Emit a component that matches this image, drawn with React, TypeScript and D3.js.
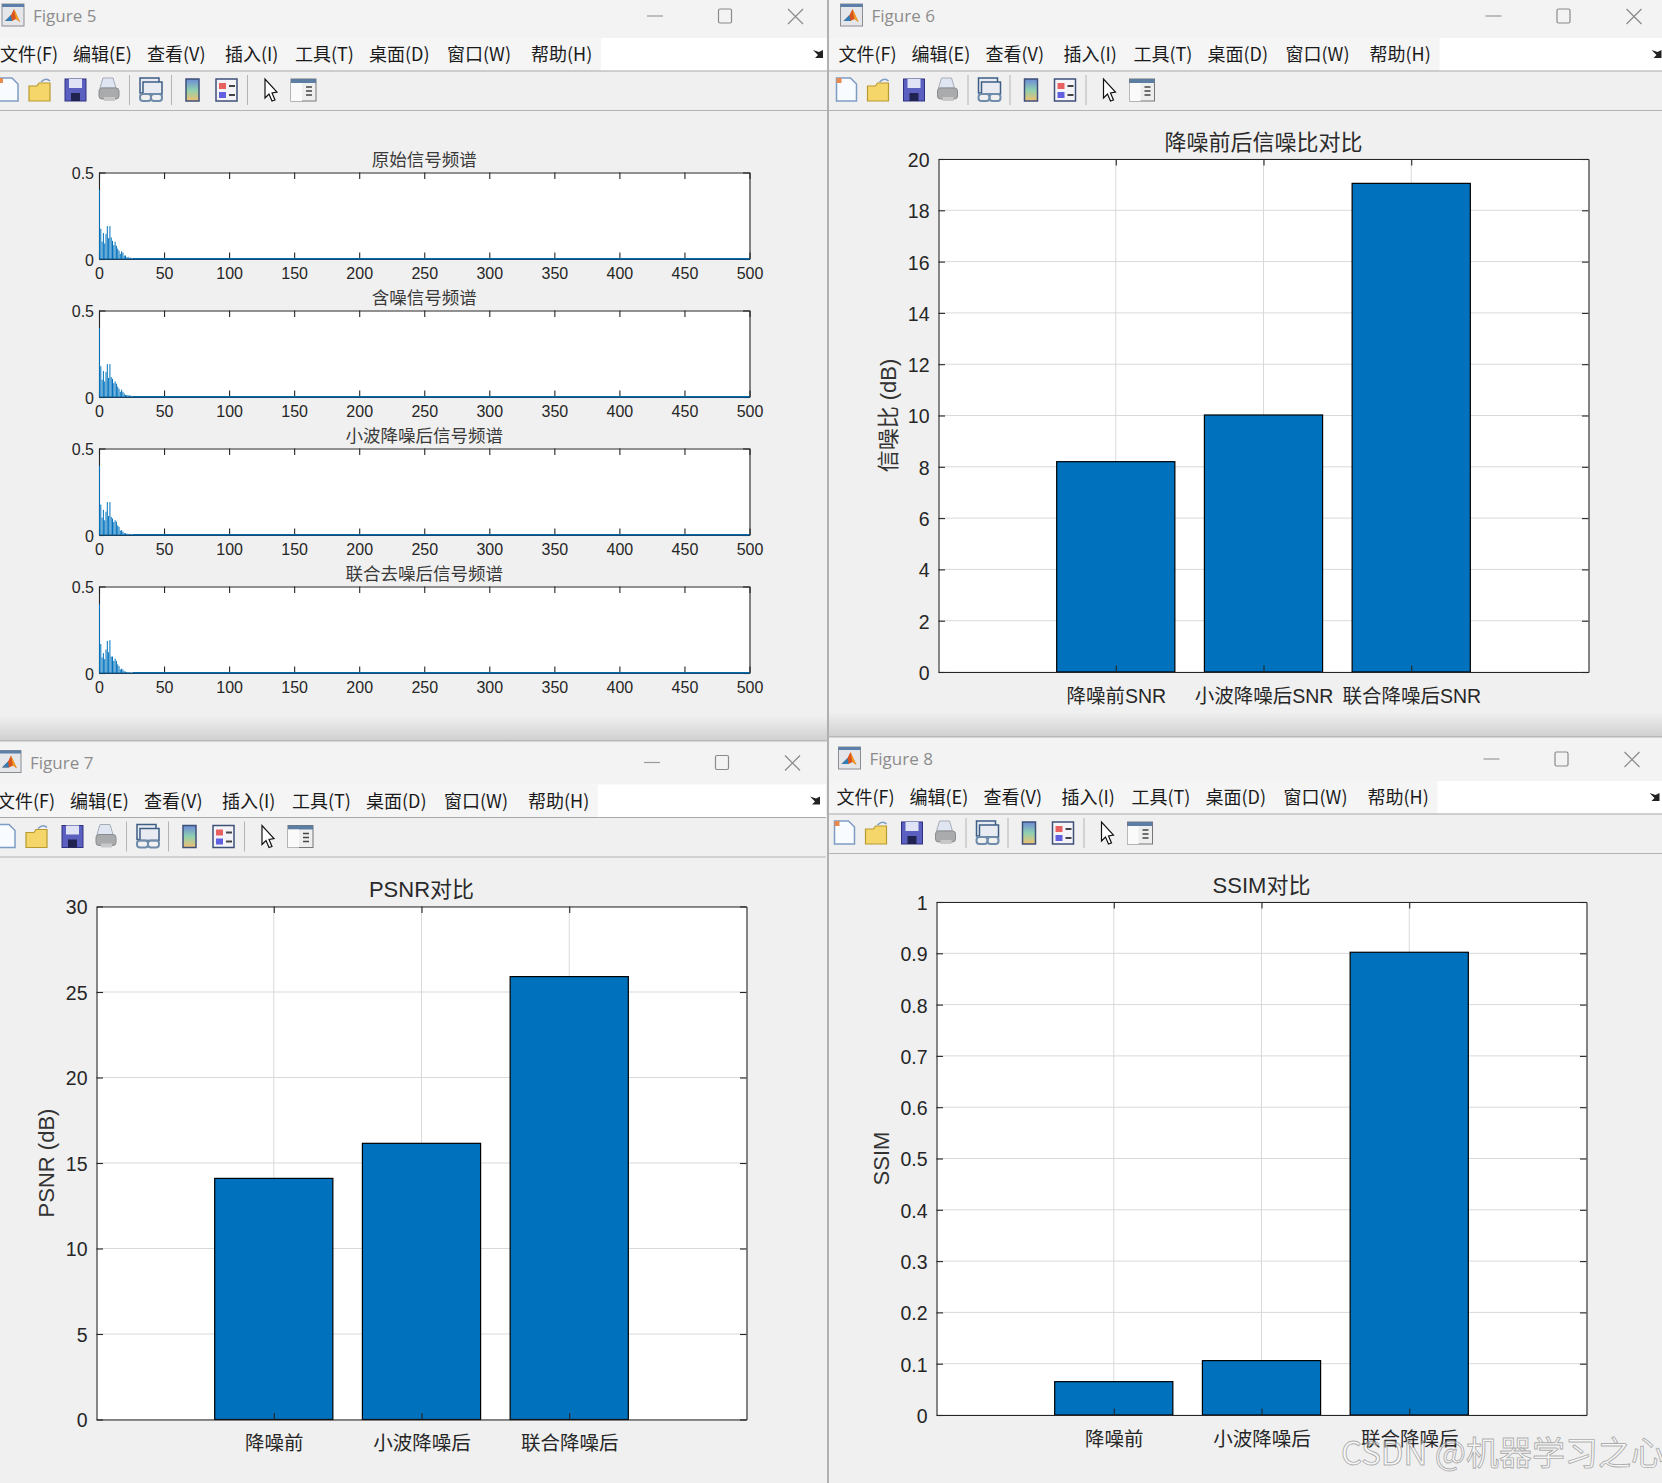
import { useEffect, useRef } from "react";
import * as d3 from "d3";

// spectrum low end: 1 Hz steps
const specFreq = [0, 1, 2, 3, 4, 5, 6, 7, 8, 9, 10, 11, 12, 13, 14, 15, 16, 17, 18, 19, 20, 21, 22, 23, 24, 25, 26];
const origAmp = [0.4, 0.175, 0.1, 0.15, 0.09, 0.145, 0.19, 0.12, 0.19, 0.125, 0.105, 0.08, 0.1, 0.077, 0.06, 0.048, 0.03, 0.044, 0.038, 0.02, 0.02, 0.01, 0.012, 0.006, 0.008, 0.004, 0.003];
const noisyAmp = [0.4, 0.178, 0.1, 0.15, 0.09, 0.145, 0.19, 0.11, 0.19, 0.115, 0.105, 0.08, 0.09, 0.077, 0.06, 0.048, 0.03, 0.042, 0.03, 0.02, 0.012, 0.012, 0.01, 0.008, 0.008, 0.006, 0.005];
const waveletAmp = [0.4, 0.176, 0.1, 0.145, 0.085, 0.135, 0.19, 0.11, 0.19, 0.105, 0.095, 0.075, 0.085, 0.077, 0.055, 0.048, 0.025, 0.028, 0.02, 0.012, 0.01, 0.008, 0.006, 0.005, 0.006, 0.004, 0.004];
const jointAmp = [0.4, 0.168, 0.09, 0.115, 0.08, 0.135, 0.185, 0.12, 0.19, 0.095, 0.095, 0.07, 0.083, 0.07, 0.05, 0.04, 0.02, 0.025, 0.02, 0.01, 0.008, 0.006, 0.004, 0.003, 0.002, 0.002, 0.001];
const tailFreq = [26, 500];
const tailAmp = [0.002, 0.002];
const specTitles = ["原始信号频谱", "含噪信号频谱", "小波降噪后信号频谱", "联合去噪后信号频谱"];
const specSeries = [origAmp, noisyAmp, waveletAmp, jointAmp];
const specXTicks = [0, 50, 100, 150, 200, 250, 300, 350, 400, 450, 500];
const specYTicks = [0, 0.5];

const snrLabels = ["降噪前SNR", "小波降噪后SNR", "联合降噪后SNR"];
const snrValues = [8.2, 10.02, 19.05];
const snrTicks = [0, 2, 4, 6, 8, 10, 12, 14, 16, 18, 20];

const psnrLabels = ["降噪前", "小波降噪后", "联合降噪后"];
const psnrValues = [14.1, 16.15, 25.9];
const psnrTicks = [0, 5, 10, 15, 20, 25, 30];

const ssimLabels = ["降噪前", "小波降噪后", "联合降噪后"];
const ssimValues = [0.065, 0.106, 0.902];
const ssimTicks = [0, 0.1, 0.2, 0.3, 0.4, 0.5, 0.6, 0.7, 0.8, 0.9, 1];

const menuItems = ["文件(F)", "编辑(E)", "查看(V)", "插入(I)", "工具(T)", "桌面(D)", "窗口(W)", "帮助(H)"];
const menuStarts = [0, 73, 147, 225, 295, 369, 447, 531];

const BLUE = "#0072bd";
const INK = "#262626";
const FONT = '"Liberation Sans","Noto Sans CJK SC",sans-serif';
const CJK = '"Noto Sans CJK SC","Liberation Sans",sans-serif';

type Sel = d3.Selection<SVGGElement, unknown, null, undefined>;

function frame(
  g: Sel,
  x: d3.ScaleLinear<number, number>,
  y: d3.ScaleLinear<number, number>,
  xTicks: number[],
  yTicks: number[],
  tickLen: number,
  xPad: number,
  yPad: number,
  fontSize: number,
  xFmt: (v: number) => string
) {
  const [x0, x1] = x.range();
  const [y1, y0] = y.range();
  const axes: [string, d3.Axis<d3.NumberValue>][] = [
    [`translate(0,${y1})`, d3.axisBottom(x).tickValues(xTicks).tickFormat((v) => xFmt(+v)).tickSizeInner(-tickLen).tickPadding(xPad)],
    [`translate(0,${y0})`, d3.axisTop(x).tickValues(xTicks).tickFormat(() => "").tickSizeInner(-tickLen)],
    [`translate(${x0},0)`, d3.axisLeft(y).tickValues(yTicks).tickFormat((v) => String(+v)).tickSizeInner(-tickLen).tickPadding(yPad)],
    [`translate(${x1},0)`, d3.axisRight(y).tickValues(yTicks).tickFormat(() => "").tickSizeInner(-tickLen)],
  ];
  axes.forEach(([tr, ax], i) => {
    const a = g.append("g").attr("transform", tr).call(ax.tickSizeOuter(0));
    a.selectAll("line,path").attr("stroke", INK).attr("stroke-width", 1.1);
    a.selectAll("text").attr("fill", INK).style("font-family", FONT).style("font-size", `${fontSize}px`);
    if (i === 2) a.selectAll("text").attr("dy", "0.38em");
  });
}

function Spectrum({ top, title, amp }: { top: number; title: string; amp: number[] }) {
  const ref = useRef<SVGGElement>(null);
  const left = 99;
  const right = 749.5;
  const h = 86.5;
  useEffect(() => {
    const g = d3.select(ref.current!) as unknown as Sel;
    g.selectAll("*").remove();
    const x = d3.scaleLinear().domain([0, 500]).range([left, right]);
    const y = d3.scaleLinear().domain([0, 0.5]).range([top + h, top]);
    g.append("rect").attr("x", left).attr("y", top).attr("width", right - left).attr("height", h).attr("fill", "#fff");
    frame(g, x, y, specXTicks, specYTicks, 6.5, 9, 5, 16, (v) => String(v));
    // series goes over the frame, the 0 Hz stem sits on the left axis line
    g.append("g")
      .selectAll("line")
      .data(specFreq)
      .join("line")
      .attr("x1", (d) => x(d) + 0.5)
      .attr("x2", (d) => x(d) + 0.5)
      .attr("y1", y(0))
      .attr("y2", (_, i) => y(amp[i]))
      .attr("stroke", BLUE)
      .attr("stroke-width", 1);
    g.append("path")
      .datum(tailFreq.map((f, i) => [f, tailAmp[i]] as [number, number]))
      .attr("d", d3.line<[number, number]>().x((d) => x(d[0])).y((d) => y(d[1])))
      .attr("stroke", BLUE)
      .attr("stroke-width", 1.2)
      .attr("fill", "none");
    g.append("line").attr("x1", x(0)).attr("x2", x(500)).attr("y1", y(0)).attr("y2", y(0)).attr("stroke", "#0b5f99").attr("stroke-width", 1);
    g.append("text")
      .attr("x", (left + right) / 2)
      .attr("y", top - 7)
      .attr("text-anchor", "middle")
      .attr("fill", "#3a3a3a")
      .style("font-family", CJK)
      .style("font-size", "17.5px")
      .text(title);
  }, [top, title, amp]);
  return <g ref={ref} />;
}

interface BarProps {
  left: number;
  top: number;
  title: string;
  yLabel: string;
  yLabelX: number;
  labels: string[];
  values: number[];
  ticks: number[];
}

function BarPanel({ left, top, title, yLabel, yLabelX, labels, values, ticks }: BarProps) {
  const ref = useRef<SVGGElement>(null);
  const w = 650;
  const h = 513;
  useEffect(() => {
    const g = d3.select(ref.current!) as unknown as Sel;
    g.selectAll("*").remove();
    const x = d3.scaleLinear().domain([-0.2, 4.2]).range([left, left + w]);
    const y = d3.scaleLinear().domain([0, ticks[ticks.length - 1]]).range([top + h, top]);
    const xTicks = labels.map((_, i) => i + 1);
    g.append("rect").attr("x", left).attr("y", top).attr("width", w).attr("height", h).attr("fill", "#fff");
    g.append("g")
      .selectAll("line")
      .data(xTicks)
      .join("line")
      .attr("x1", (d) => x(d))
      .attr("x2", (d) => x(d))
      .attr("y1", top)
      .attr("y2", top + h)
      .attr("stroke", "#d9d9d9");
    g.append("g")
      .selectAll("line")
      .data(ticks)
      .join("line")
      .attr("x1", left)
      .attr("x2", left + w)
      .attr("y1", (d) => y(d))
      .attr("y2", (d) => y(d))
      .attr("stroke", "#d9d9d9");
    g.append("g")
      .selectAll("rect")
      .data(values)
      .join("rect")
      .attr("x", (_, i) => x(i + 1 - 0.4))
      .attr("width", x(0.8) - x(0))
      .attr("y", (d) => y(d))
      .attr("height", (d) => y(0) - y(d))
      .attr("fill", BLUE)
      .attr("stroke", "#000")
      .attr("stroke-width", 1.2);
    frame(g, x, y, xTicks, ticks, 6.5, 17, 9, 19.5, (v) => labels[v - 1]);
    g.append("text")
      .attr("x", left + w / 2)
      .attr("y", top - 9.5)
      .attr("text-anchor", "middle")
      .attr("fill", "#2a2a2a")
      .style("font-family", FONT)
      .style("font-size", "22px")
      .text(title);
    g.append("text")
      .attr("transform", `translate(${yLabelX},${top + h / 2}) rotate(-90)`)
      .attr("text-anchor", "middle")
      .attr("dy", "0.35em")
      .attr("fill", "#333")
      .style("font-family", FONT)
      .style("font-size", "22px")
      .text(yLabel);
  }, [left, top, title, yLabel, yLabelX, labels, values, ticks]);
  return <g ref={ref} />;
}

function Logo() {
  return (
    <g>
      <rect x={2} y={4} width={22} height={22} fill="#e4e6ea" stroke="#8a8d92" />
      <rect x={2} y={4} width={22} height={3} fill="#5b7fa8" />
      <path d="M5 21 L11 15 L14 9 L20 22 L16 19 L12 21 Z" fill="#d9541e" />
      <path d="M5 21 L11 15 L12 21 Z" fill="#2f7fb8" />
      <path d="M14 9 L20 22 L16 19 Z" fill="#f0a020" />
    </g>
  );
}

function Toolbar() {
  return (
    <g>
      <path d="M-2 78 H12 L18 84 V101 H-2 Z" fill="#f8fbff" stroke="#7d9cc4" strokeWidth={1.5} />
      <rect x={-2} y={78} width={5} height={5} fill="#e88a50" />
      <path d="M29 86 H37 L39 83 H50 V101 H29 Z" fill="#f5d66a" stroke="#b89a30" strokeWidth={1.2} />
      <path d="M41 82 Q46 77 50 81" fill="none" stroke="#7d9cc4" strokeWidth={1.5} />
      <rect x={65} y={79} width={21} height={22} fill="#5a5fc0" stroke="#2e3280" />
      <rect x={69} y={79} width={13} height={9} fill="#dfe3f5" />
      <rect x={71} y={93} width={9} height={8} fill="#20234f" />
      <path d="M103 78 H113 L116 88 H100 Z" fill="#dfe6f2" stroke="#a6acb6" />
      <rect x={99} y={88} width={20} height={11} rx={3} fill="#a9abad" stroke="#8a8c8e" />
      <rect x={104} y={97} width={11} height={4} fill="#c8c8c8" />
      <rect x={129} y={75} width={1} height={30} fill="#b4b4b4" />
      <rect x={140} y={78} width={19} height={15} fill="#e8ecf2" stroke="#3e5d85" strokeWidth={1.5} />
      <rect x={143} y={82} width={19} height={12} fill="#e8ecf2" stroke="#3e5d85" strokeWidth={1.5} />
      <rect x={140} y={94} width={11} height={7} rx={3} fill="none" stroke="#6f8cab" strokeWidth={2} />
      <rect x={151} y={94} width={11} height={7} rx={3} fill="none" stroke="#6f8cab" strokeWidth={2} />
      <rect x={171} y={75} width={1} height={30} fill="#b4b4b4" />
      <defs>
        <linearGradient id="cbar" x1="0" y1="0" x2="0" y2="1">
          <stop offset="0" stopColor="#6c8ad8" />
          <stop offset="0.5" stopColor="#8fd0b0" />
          <stop offset="1" stopColor="#f0c070" />
        </linearGradient>
      </defs>
      <rect x={186} y={79} width={13} height={22} fill="url(#cbar)" stroke="#3e4f78" strokeWidth={1.5} />
      <rect x={216} y={79} width={21} height={22} fill="#f4f4f8" stroke="#3e4f78" strokeWidth={1.5} />
      <rect x={219} y={83} width={7} height={6} fill="#e86060" />
      <rect x={219} y={92} width={7} height={6} fill="#6060e0" />
      <rect x={229} y={85} width={6} height={2} fill="#444" />
      <rect x={229} y={94} width={6} height={2} fill="#444" />
      <rect x={247} y={75} width={1} height={30} fill="#b4b4b4" />
      <path d="M265 79 V98 L269 94 L272 101 L275 100 L272 93 L277 92 Z" fill="#fff" stroke="#111" strokeWidth={1.2} />
      <rect x={291} y={79} width={25} height={22} fill="#eee" stroke="#777" />
      <rect x={291} y={79} width={25} height={4} fill="#5d7ea3" />
      <rect x={291} y={83} width={11} height={18} fill="#fafafa" />
      <path d="M306 87 H312 M306 91 H312 M306 95 H312" stroke="#444" strokeWidth={1.5} />
    </g>
  );
}

function Chrome({ dx, dy, top, bottom, xL, xR, name }: { dx: number; dy: number; top: number; bottom: number; xL: number; xR: number; name: string }) {
  const id = `clip-${name.replace(" ", "")}`;
  return (
    <g>
      <clipPath id={id}>
        <rect x={xL} y={top} width={xR - xL} height={bottom - top} />
      </clipPath>
      <g clipPath={`url(#${id})`}>
        <rect x={xL} y={top} width={xR - xL} height={bottom - top} fill="#f0f0f0" />
        <rect x={xL} y={top} width={xR - xL} height={dy + 38 - top} fill="#f3f3f3" />
        <rect x={xL} y={dy + 38} width={xR - xL} height={33} fill="#fff" />
        <rect x={xL} y={dy + 38} width={dx + 601 - xL} height={33} fill="#f5f5f5" />
        <rect x={xL} y={dy + 70.5} width={xR - xL} height={1} fill="#a8a8a8" />
        <rect x={xL} y={dy + 110} width={xR - xL} height={1} fill="#b4b4b4" />
        <g transform={`translate(${dx},${dy})`}>
          <Logo />
          <text x={33} y={22} fill="#8c8c8c" fontFamily='"Open Sans",sans-serif' fontSize={17}>{name}</text>
          <path d="M647 16 H663" stroke="#9a9a9a" strokeWidth={1.2} />
          <rect x={718.5} y={9} width={13} height={14} rx={1.5} fill="none" stroke="#8a8a8a" strokeWidth={1.2} />
          <path d="M788 9 L803 24 M803 9 L788 24" stroke="#8a8a8a" strokeWidth={1.2} />
          {menuItems.map((m, i) => (
            <text key={m} x={menuStarts[i]} y={61} fill="#1a1a1a" fontFamily={CJK} fontSize={18}>{m}</text>
          ))}
          <path d="M813 50 L819 52 L823 50 L823 58 L815 58 L818 55 Z" fill="#222" />
          <Toolbar />
        </g>
      </g>
    </g>
  );
}

export default function App() {
  return (
    <svg width={1662} height={1483} viewBox="0 0 1662 1483" style={{ position: "absolute", left: 0, top: 0, background: "#f0f0f0" }}>
      <defs>
        <linearGradient id="edge" x1="0" y1="0" x2="0" y2="1">
          <stop offset="0" stopColor="#f0f0f0" />
          <stop offset="1" stopColor="#cfcfcf" />
        </linearGradient>
      </defs>
      <Chrome dx={0} dy={0} top={0} bottom={741} xL={0} xR={828} name="Figure 5" />
      <Chrome dx={838.5} dy={0} top={0} bottom={737} xL={829} xR={1662} name="Figure 6" />
      <rect x={0} y={716} width={828} height={25} fill="url(#edge)" />
      <rect x={829} y={712} width={833} height={25} fill="url(#edge)" />
      <Chrome dx={-3} dy={746.5} top={741} bottom={1483} xL={0} xR={826} name="Figure 7" />
      <Chrome dx={836.5} dy={743} top={737} bottom={1483} xL={828} xR={1662} name="Figure 8" />
      <rect x={827} y={0} width={2} height={1483} fill="#b0b0b0" />
      <rect x={0} y={740} width={827} height={1.5} fill="#b8b8b8" />
      <rect x={829} y={736} width={833} height={1.5} fill="#b8b8b8" />

      {specSeries.map((amp, i) => (
        <Spectrum key={specTitles[i]} top={172.5 + i * 138} title={specTitles[i]} amp={amp} />
      ))}
      <BarPanel left={938.5} top={159} title="降噪前后信噪比对比" yLabel="信噪比 (dB)" yLabelX={888} labels={snrLabels} values={snrValues} ticks={snrTicks} />
      <BarPanel left={96.5} top={906.5} title="PSNR对比" yLabel="PSNR (dB)" yLabelX={46} labels={psnrLabels} values={psnrValues} ticks={psnrTicks} />
      <BarPanel left={936.5} top={902} title="SSIM对比" yLabel="SSIM" yLabelX={881} labels={ssimLabels} values={ssimValues} ticks={ssimTicks} />

      <text x={1341} y={1465} fontFamily={CJK} fontSize={33} fill="rgba(255,255,255,0.45)" stroke="rgba(110,110,110,0.55)" strokeWidth={0.9}>
        CSDN @机器学习之心
      </text>
    </svg>
  );
}
